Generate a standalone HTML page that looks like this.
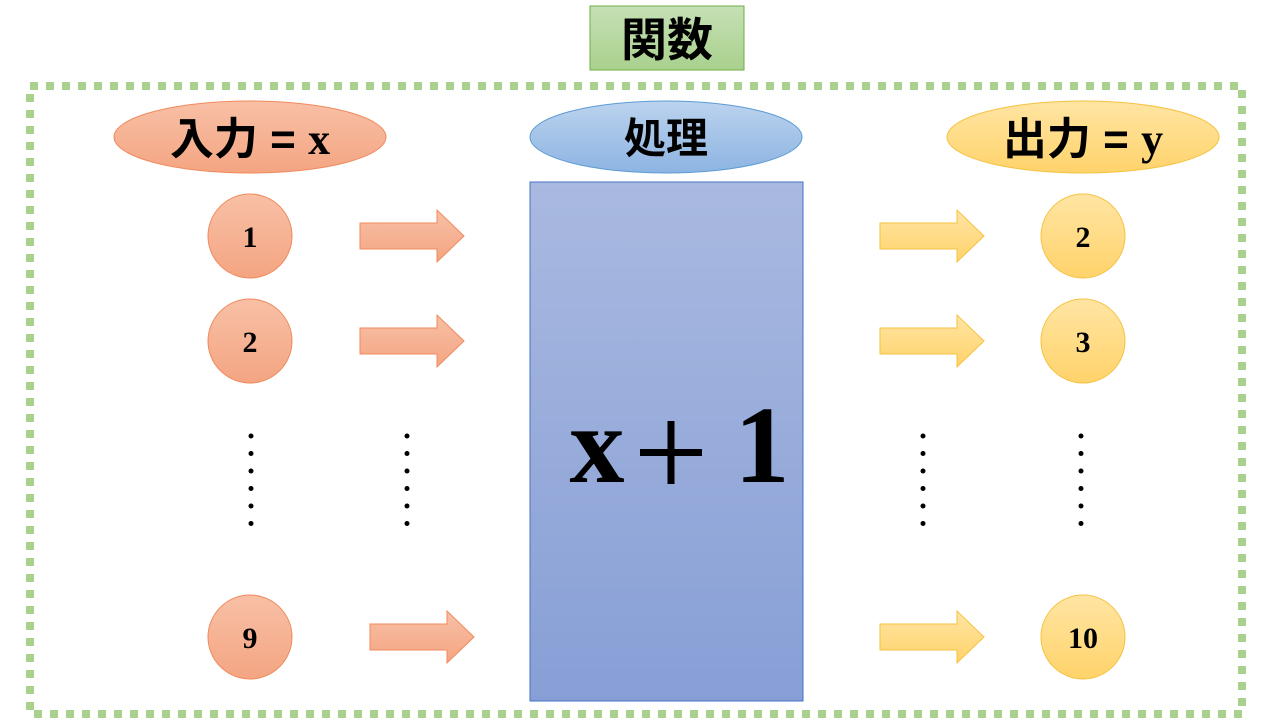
<!DOCTYPE html>
<html><head><meta charset="utf-8"><style>
html,body{margin:0;padding:0;background:#fff;width:1280px;height:720px;overflow:hidden}
svg{display:block}
text{font-family:"Liberation Serif","Noto Serif CJK SC",serif;font-weight:bold;fill:#000}
.j{font-family:"Liberation Sans","Noto Sans CJK JP",sans-serif;font-weight:bold}
</style></head><body>
<svg width="1280" height="720" viewBox="0 0 1280 720" xmlns="http://www.w3.org/2000/svg">
<defs>
<linearGradient id="gg" x1="0" y1="0" x2="0" y2="1"><stop offset="0" stop-color="#c5e0b4"/><stop offset="1" stop-color="#a9d18e"/></linearGradient>
<linearGradient id="og" x1="0" y1="0" x2="0" y2="1"><stop offset="0" stop-color="#f8c0a6"/><stop offset="1" stop-color="#f4a582"/></linearGradient>
<linearGradient id="yg" x1="0" y1="0" x2="0" y2="1"><stop offset="0" stop-color="#ffe5a3"/><stop offset="1" stop-color="#ffd36b"/></linearGradient>
<linearGradient id="bg" x1="0" y1="0" x2="0" y2="1"><stop offset="0" stop-color="#bcd3ee"/><stop offset="1" stop-color="#8db4e2"/></linearGradient>
<linearGradient id="rg" x1="0" y1="0" x2="0" y2="1"><stop offset="0" stop-color="#a9b9e0"/><stop offset="1" stop-color="#879fd6"/></linearGradient>
<g id="ao"><polygon points="0,-13 77,-13 77,-26 104,0 77,26 77,13 0,13" fill="url(#og)" stroke="#f08a5d" stroke-width="1"/></g>
<g id="ay"><polygon points="0,-13 77,-13 77,-26 104,0 77,26 77,13 0,13" fill="url(#yg)" stroke="#f5c242" stroke-width="1"/></g>
<g id="dots" fill="#000"><circle cx="0" cy="436" r="2.5"/><circle cx="0" cy="453.5" r="2.5"/><circle cx="0" cy="471" r="2.5"/><circle cx="0" cy="488.5" r="2.5"/><circle cx="0" cy="506" r="2.5"/><circle cx="0" cy="523.5" r="2.5"/></g>
</defs>
<rect x="30" y="86" width="1212" height="628" fill="none" stroke="#a9d18e" stroke-width="8" stroke-dasharray="8 8"/>
<rect x="590" y="6" width="154" height="64" fill="url(#gg)" stroke="#70ad47" stroke-width="1"/>
<text x="667" y="56" font-size="46" text-anchor="middle" class="j">関数</text>

<ellipse cx="250" cy="137" rx="136" ry="36" fill="url(#og)" stroke="#f08a5d"/>
<text x="250" y="154" font-size="44" text-anchor="middle" class="j">入力 = <tspan font-family="Liberation Serif">x</tspan></text>
<ellipse cx="666" cy="137" rx="136" ry="36" fill="url(#bg)" stroke="#5b9bd5"/>
<text x="666" y="153" font-size="42" text-anchor="middle" class="j">処理</text>
<ellipse cx="1083" cy="137" rx="136" ry="36" fill="url(#yg)" stroke="#f5c242"/>
<text x="1083" y="154" font-size="44" text-anchor="middle" class="j">出力 = <tspan font-family="Liberation Serif">y</tspan></text>

<rect x="530" y="182" width="273" height="519" fill="url(#rg)" stroke="#4472c4" stroke-width="1"/>
<text x="597" y="482" font-size="110" text-anchor="middle">x</text>
<rect x="640" y="449" width="62" height="7" fill="#000"/>
<rect x="667.5" y="421" width="7" height="63" fill="#000"/>
<text x="762" y="482" font-size="110" text-anchor="middle">1</text>

<g fill="url(#og)" stroke="#f08a5d">
<circle cx="250" cy="236" r="42"/><circle cx="250" cy="341" r="42"/><circle cx="250" cy="637" r="42"/></g>
<g fill="url(#yg)" stroke="#f5c242">
<circle cx="1083" cy="236" r="42"/><circle cx="1083" cy="341" r="42"/><circle cx="1083" cy="637" r="42"/></g>
<g font-size="30" text-anchor="middle">
<text x="250" y="247">1</text><text x="250" y="352">2</text><text x="250" y="648">9</text>
<text x="1083" y="247">2</text><text x="1083" y="352">3</text><text x="1083" y="648">10</text></g>

<use href="#ao" x="360" y="236"/><use href="#ao" x="360" y="341"/><use href="#ao" x="370" y="637"/>
<use href="#ay" x="880" y="236"/><use href="#ay" x="880" y="341"/><use href="#ay" x="880" y="637"/>

<use href="#dots" x="251"/><use href="#dots" x="407"/><use href="#dots" x="923"/><use href="#dots" x="1081"/>
</svg>
</body></html>
